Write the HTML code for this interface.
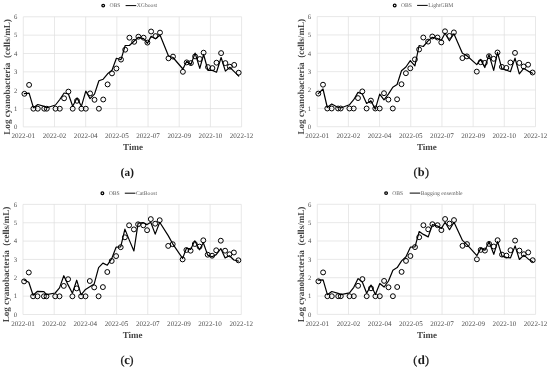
<!DOCTYPE html>
<html><head><meta charset="utf-8"><title>Figure</title>
<style>
html,body{margin:0;padding:0;background:#fff;}
body{width:550px;height:368px;overflow:hidden;}
svg{display:block;}
text{font-family:"Liberation Serif","DejaVu Serif",serif;text-rendering:geometricPrecision;}
.g{stroke:#dedede;stroke-width:0.7;shape-rendering:auto;}
.t{font-size:7.1px;fill:#505050;}
.yt{font-size:6.7px;}
.at{font-size:9.0px;font-weight:bold;fill:#464646;}
.yl{font-size:9.12px;white-space:pre;}
.ml{fill:none;stroke:#000;stroke-width:1.2;stroke-linejoin:round;stroke-linecap:round;}
.ob{fill:none;stroke:#000;stroke-width:1.0;}
.lo{fill:#fff;stroke:#000;stroke-width:1.25;}
.ll{stroke:#000;stroke-width:1.0;}
.lt{font-size:5.65px;fill:#666;}
.cap{fill:#1a1a1a;}
</style></head><body>
<svg width="550" height="368" viewBox="0 0 550 368">
<rect width="550" height="368" fill="#fff"/>
<g transform="translate(0,0)">
<line x1="23.3" y1="16.80" x2="241.6" y2="16.80" class="g"/>
<line x1="23.3" y1="35.15" x2="241.6" y2="35.15" class="g"/>
<line x1="23.3" y1="53.50" x2="241.6" y2="53.50" class="g"/>
<line x1="23.3" y1="71.85" x2="241.6" y2="71.85" class="g"/>
<line x1="23.3" y1="90.20" x2="241.6" y2="90.20" class="g"/>
<line x1="23.3" y1="108.55" x2="241.6" y2="108.55" class="g"/>
<line x1="23.3" y1="126.90" x2="241.6" y2="126.90" class="g"/>
<line x1="23.30" y1="16.8" x2="23.30" y2="126.9" class="g"/>
<line x1="54.49" y1="16.8" x2="54.49" y2="126.9" class="g"/>
<line x1="85.67" y1="16.8" x2="85.67" y2="126.9" class="g"/>
<line x1="116.86" y1="16.8" x2="116.86" y2="126.9" class="g"/>
<line x1="148.04" y1="16.8" x2="148.04" y2="126.9" class="g"/>
<line x1="179.23" y1="16.8" x2="179.23" y2="126.9" class="g"/>
<line x1="210.41" y1="16.8" x2="210.41" y2="126.9" class="g"/>
<line x1="241.60" y1="16.8" x2="241.60" y2="126.9" class="g"/>
<text x="17.3" y="129.20" class="t yt" text-anchor="end">0</text>
<text x="17.3" y="110.85" class="t yt" text-anchor="end">1</text>
<text x="17.3" y="92.50" class="t yt" text-anchor="end">2</text>
<text x="17.3" y="74.15" class="t yt" text-anchor="end">3</text>
<text x="17.3" y="55.80" class="t yt" text-anchor="end">4</text>
<text x="17.3" y="37.45" class="t yt" text-anchor="end">5</text>
<text x="17.3" y="19.10" class="t yt" text-anchor="end">6</text>
<text x="23.30" y="138.2" class="t" text-anchor="middle">2022-01</text>
<text x="54.49" y="138.2" class="t" text-anchor="middle">2022-02</text>
<text x="85.67" y="138.2" class="t" text-anchor="middle">2022-04</text>
<text x="116.86" y="138.2" class="t" text-anchor="middle">2022-05</text>
<text x="148.04" y="138.2" class="t" text-anchor="middle">2022-07</text>
<text x="179.23" y="138.2" class="t" text-anchor="middle">2022-09</text>
<text x="210.41" y="138.2" class="t" text-anchor="middle">2022-10</text>
<text x="241.60" y="138.2" class="t" text-anchor="middle">2022-12</text>
<text x="133" y="150.0" class="at" text-anchor="middle">Time</text>
<text transform="translate(9.6,76.9) rotate(-90)" class="at yl" text-anchor="middle">Log cyanobacteria  (cells/mL)</text>
<polyline points="24.4,93.7 29.1,93.2 33.4,107.7 37.8,104.5 44.2,106.3 46.8,107.7 55.5,105.0 59.8,99.5 64.1,93.0 68.4,94.0 72.7,106.3 77.0,97.9 81.4,106.3 85.8,91.1 90.1,98.6 94.5,94.1 98.9,80.8 103.2,79.2 107.6,73.8 112.0,70.3 116.4,58.3 121.0,59.7 125.2,45.5 129.4,45.5 134.2,41.0 138.4,37.3 143.6,38.6 147.4,43.4 151.1,36.4 155.5,38.8 160.0,35.0 168.5,56.0 173.0,57.5 182.9,69.0 186.7,61.3 190.9,64.5 195.1,53.1 199.8,68.4 203.6,54.5 208.0,70.5 212.4,70.4 216.5,72.2 221.1,57.5 225.4,71.1 229.8,67.3 234.2,71.6 238.7,76.0" class="ml"/>
<circle cx="24.4" cy="93.8" r="2.45" class="ob"/>
<circle cx="29.1" cy="84.9" r="2.45" class="ob"/>
<circle cx="33.4" cy="108.7" r="2.45" class="ob"/>
<circle cx="37.8" cy="108.7" r="2.45" class="ob"/>
<circle cx="44.2" cy="108.7" r="2.45" class="ob"/>
<circle cx="46.8" cy="108.7" r="2.45" class="ob"/>
<circle cx="55.5" cy="108.7" r="2.45" class="ob"/>
<circle cx="59.8" cy="108.7" r="2.45" class="ob"/>
<circle cx="64.1" cy="98.3" r="2.45" class="ob"/>
<circle cx="68.4" cy="91.6" r="2.45" class="ob"/>
<circle cx="72.7" cy="108.7" r="2.45" class="ob"/>
<circle cx="77.0" cy="100.8" r="2.45" class="ob"/>
<circle cx="81.4" cy="108.7" r="2.45" class="ob"/>
<circle cx="85.8" cy="108.7" r="2.45" class="ob"/>
<circle cx="90.1" cy="93.4" r="2.45" class="ob"/>
<circle cx="94.5" cy="99.8" r="2.45" class="ob"/>
<circle cx="98.9" cy="108.7" r="2.45" class="ob"/>
<circle cx="103.2" cy="99.5" r="2.45" class="ob"/>
<circle cx="107.6" cy="84.4" r="2.45" class="ob"/>
<circle cx="112.0" cy="73.4" r="2.45" class="ob"/>
<circle cx="116.4" cy="68.5" r="2.45" class="ob"/>
<circle cx="121.0" cy="59.6" r="2.45" class="ob"/>
<circle cx="125.2" cy="49.7" r="2.45" class="ob"/>
<circle cx="129.4" cy="37.7" r="2.45" class="ob"/>
<circle cx="134.2" cy="41.8" r="2.45" class="ob"/>
<circle cx="138.4" cy="36.7" r="2.45" class="ob"/>
<circle cx="143.6" cy="37.7" r="2.45" class="ob"/>
<circle cx="147.4" cy="42.6" r="2.45" class="ob"/>
<circle cx="151.1" cy="31.5" r="2.45" class="ob"/>
<circle cx="155.5" cy="36.1" r="2.45" class="ob"/>
<circle cx="160.0" cy="32.6" r="2.45" class="ob"/>
<circle cx="168.5" cy="58.3" r="2.45" class="ob"/>
<circle cx="173.0" cy="56.6" r="2.45" class="ob"/>
<circle cx="182.9" cy="71.8" r="2.45" class="ob"/>
<circle cx="186.7" cy="62.4" r="2.45" class="ob"/>
<circle cx="190.9" cy="63.1" r="2.45" class="ob"/>
<circle cx="195.1" cy="56.4" r="2.45" class="ob"/>
<circle cx="199.8" cy="59.0" r="2.45" class="ob"/>
<circle cx="203.6" cy="52.7" r="2.45" class="ob"/>
<circle cx="208.0" cy="67.1" r="2.45" class="ob"/>
<circle cx="212.4" cy="68.1" r="2.45" class="ob"/>
<circle cx="216.5" cy="62.7" r="2.45" class="ob"/>
<circle cx="221.1" cy="53.1" r="2.45" class="ob"/>
<circle cx="225.4" cy="63.1" r="2.45" class="ob"/>
<circle cx="229.8" cy="66.7" r="2.45" class="ob"/>
<circle cx="234.2" cy="64.9" r="2.45" class="ob"/>
<circle cx="238.7" cy="72.7" r="2.45" class="ob"/>
<circle cx="103.2" cy="5.6" r="1.35" class="lo"/>
<text x="109.5" y="7.4" class="lt">OBS</text>
<line x1="125.6" y1="5.6" x2="136.2" y2="5.6" class="ll"/>
<text x="136.8" y="7.4" class="lt">XGboost</text>
<text x="127.2" y="176.3" class="cap" text-anchor="middle"><tspan style="font-size:12px;font-weight:bold;stroke:#1a1a1a;stroke-width:0">(</tspan><tspan dx="0" style="font-size:11.2px;font-weight:bold">a</tspan><tspan dx="0" style="font-size:12px;font-weight:bold;stroke:#1a1a1a;stroke-width:0">)</tspan></text>
</g><g transform="translate(293.9,-0.2)">
<line x1="23.3" y1="16.80" x2="241.6" y2="16.80" class="g"/>
<line x1="23.3" y1="35.15" x2="241.6" y2="35.15" class="g"/>
<line x1="23.3" y1="53.50" x2="241.6" y2="53.50" class="g"/>
<line x1="23.3" y1="71.85" x2="241.6" y2="71.85" class="g"/>
<line x1="23.3" y1="90.20" x2="241.6" y2="90.20" class="g"/>
<line x1="23.3" y1="108.55" x2="241.6" y2="108.55" class="g"/>
<line x1="23.3" y1="126.90" x2="241.6" y2="126.90" class="g"/>
<line x1="23.30" y1="16.8" x2="23.30" y2="126.9" class="g"/>
<line x1="54.49" y1="16.8" x2="54.49" y2="126.9" class="g"/>
<line x1="85.67" y1="16.8" x2="85.67" y2="126.9" class="g"/>
<line x1="116.86" y1="16.8" x2="116.86" y2="126.9" class="g"/>
<line x1="148.04" y1="16.8" x2="148.04" y2="126.9" class="g"/>
<line x1="179.23" y1="16.8" x2="179.23" y2="126.9" class="g"/>
<line x1="210.41" y1="16.8" x2="210.41" y2="126.9" class="g"/>
<line x1="241.60" y1="16.8" x2="241.60" y2="126.9" class="g"/>
<text x="17.3" y="129.20" class="t yt" text-anchor="end">0</text>
<text x="17.3" y="110.85" class="t yt" text-anchor="end">1</text>
<text x="17.3" y="92.50" class="t yt" text-anchor="end">2</text>
<text x="17.3" y="74.15" class="t yt" text-anchor="end">3</text>
<text x="17.3" y="55.80" class="t yt" text-anchor="end">4</text>
<text x="17.3" y="37.45" class="t yt" text-anchor="end">5</text>
<text x="17.3" y="19.10" class="t yt" text-anchor="end">6</text>
<text x="23.30" y="138.2" class="t" text-anchor="middle">2022-01</text>
<text x="54.49" y="138.2" class="t" text-anchor="middle">2022-02</text>
<text x="85.67" y="138.2" class="t" text-anchor="middle">2022-04</text>
<text x="116.86" y="138.2" class="t" text-anchor="middle">2022-05</text>
<text x="148.04" y="138.2" class="t" text-anchor="middle">2022-07</text>
<text x="179.23" y="138.2" class="t" text-anchor="middle">2022-09</text>
<text x="210.41" y="138.2" class="t" text-anchor="middle">2022-10</text>
<text x="241.60" y="138.2" class="t" text-anchor="middle">2022-12</text>
<text x="133" y="150.0" class="at" text-anchor="middle">Time</text>
<text transform="translate(9.6,76.9) rotate(-90)" class="at yl" text-anchor="middle">Log cyanobacteria  (cells/mL)</text>
<polyline points="24.4,93.9 29.1,89.2 33.4,107.7 37.8,104.2 44.2,107.7 46.8,108.2 55.5,105.0 59.8,99.9 64.1,92.6 68.4,94.2 72.7,103.6 77.0,100.9 81.4,109.3 85.8,94.3 90.1,100.0 94.5,94.3 98.9,87.4 103.2,84.7 107.6,71.0 112.0,67.2 116.4,60.8 121.0,66.1 125.2,45.7 129.4,46.7 134.2,41.1 138.4,37.5 143.6,38.7 147.4,40.5 151.1,33.4 155.5,41.0 160.0,33.9 168.5,53.4 173.0,56.0 182.9,64.8 186.7,59.6 190.9,67.7 195.1,54.8 199.8,70.6 203.6,52.5 208.0,69.1 212.4,70.2 216.5,71.9 221.1,58.3 225.4,74.0 229.8,68.6 234.2,71.3 238.7,73.5" class="ml"/>
<circle cx="24.4" cy="93.8" r="2.45" class="ob"/>
<circle cx="29.1" cy="84.9" r="2.45" class="ob"/>
<circle cx="33.4" cy="108.7" r="2.45" class="ob"/>
<circle cx="37.8" cy="108.7" r="2.45" class="ob"/>
<circle cx="44.2" cy="108.7" r="2.45" class="ob"/>
<circle cx="46.8" cy="108.7" r="2.45" class="ob"/>
<circle cx="55.5" cy="108.7" r="2.45" class="ob"/>
<circle cx="59.8" cy="108.7" r="2.45" class="ob"/>
<circle cx="64.1" cy="98.3" r="2.45" class="ob"/>
<circle cx="68.4" cy="91.6" r="2.45" class="ob"/>
<circle cx="72.7" cy="108.7" r="2.45" class="ob"/>
<circle cx="77.0" cy="100.8" r="2.45" class="ob"/>
<circle cx="81.4" cy="108.7" r="2.45" class="ob"/>
<circle cx="85.8" cy="108.7" r="2.45" class="ob"/>
<circle cx="90.1" cy="93.4" r="2.45" class="ob"/>
<circle cx="94.5" cy="99.8" r="2.45" class="ob"/>
<circle cx="98.9" cy="108.7" r="2.45" class="ob"/>
<circle cx="103.2" cy="99.5" r="2.45" class="ob"/>
<circle cx="107.6" cy="84.4" r="2.45" class="ob"/>
<circle cx="112.0" cy="73.4" r="2.45" class="ob"/>
<circle cx="116.4" cy="68.5" r="2.45" class="ob"/>
<circle cx="121.0" cy="59.6" r="2.45" class="ob"/>
<circle cx="125.2" cy="49.7" r="2.45" class="ob"/>
<circle cx="129.4" cy="37.7" r="2.45" class="ob"/>
<circle cx="134.2" cy="41.8" r="2.45" class="ob"/>
<circle cx="138.4" cy="36.7" r="2.45" class="ob"/>
<circle cx="143.6" cy="37.7" r="2.45" class="ob"/>
<circle cx="147.4" cy="42.6" r="2.45" class="ob"/>
<circle cx="151.1" cy="31.5" r="2.45" class="ob"/>
<circle cx="155.5" cy="36.1" r="2.45" class="ob"/>
<circle cx="160.0" cy="32.6" r="2.45" class="ob"/>
<circle cx="168.5" cy="58.3" r="2.45" class="ob"/>
<circle cx="173.0" cy="56.6" r="2.45" class="ob"/>
<circle cx="182.9" cy="71.8" r="2.45" class="ob"/>
<circle cx="186.7" cy="62.4" r="2.45" class="ob"/>
<circle cx="190.9" cy="63.1" r="2.45" class="ob"/>
<circle cx="195.1" cy="56.4" r="2.45" class="ob"/>
<circle cx="199.8" cy="59.0" r="2.45" class="ob"/>
<circle cx="203.6" cy="52.7" r="2.45" class="ob"/>
<circle cx="208.0" cy="67.1" r="2.45" class="ob"/>
<circle cx="212.4" cy="68.1" r="2.45" class="ob"/>
<circle cx="216.5" cy="62.7" r="2.45" class="ob"/>
<circle cx="221.1" cy="53.1" r="2.45" class="ob"/>
<circle cx="225.4" cy="63.1" r="2.45" class="ob"/>
<circle cx="229.8" cy="66.7" r="2.45" class="ob"/>
<circle cx="234.2" cy="64.9" r="2.45" class="ob"/>
<circle cx="238.7" cy="72.7" r="2.45" class="ob"/>
<circle cx="100.8" cy="5.6" r="1.35" class="lo"/>
<text x="107.1" y="7.4" class="lt">OBS</text>
<line x1="123.19999999999999" y1="5.6" x2="133.8" y2="5.6" class="ll"/>
<text x="134.4" y="7.4" class="lt">LightGBM</text>
<text x="127.3" y="176.5" class="cap" text-anchor="middle"><tspan style="font-size:12px;font-weight:normal;stroke:#1a1a1a;stroke-width:0.25">(</tspan><tspan dx="0.3" style="font-size:12.3px;font-weight:bold">b</tspan><tspan dx="0.3" style="font-size:12px;font-weight:normal;stroke:#1a1a1a;stroke-width:0.25">)</tspan></text>
</g><g transform="translate(-0.3,187.6)">
<line x1="23.3" y1="16.80" x2="241.6" y2="16.80" class="g"/>
<line x1="23.3" y1="35.15" x2="241.6" y2="35.15" class="g"/>
<line x1="23.3" y1="53.50" x2="241.6" y2="53.50" class="g"/>
<line x1="23.3" y1="71.85" x2="241.6" y2="71.85" class="g"/>
<line x1="23.3" y1="90.20" x2="241.6" y2="90.20" class="g"/>
<line x1="23.3" y1="108.55" x2="241.6" y2="108.55" class="g"/>
<line x1="23.3" y1="126.90" x2="241.6" y2="126.90" class="g"/>
<line x1="23.30" y1="16.8" x2="23.30" y2="126.9" class="g"/>
<line x1="54.49" y1="16.8" x2="54.49" y2="126.9" class="g"/>
<line x1="85.67" y1="16.8" x2="85.67" y2="126.9" class="g"/>
<line x1="116.86" y1="16.8" x2="116.86" y2="126.9" class="g"/>
<line x1="148.04" y1="16.8" x2="148.04" y2="126.9" class="g"/>
<line x1="179.23" y1="16.8" x2="179.23" y2="126.9" class="g"/>
<line x1="210.41" y1="16.8" x2="210.41" y2="126.9" class="g"/>
<line x1="241.60" y1="16.8" x2="241.60" y2="126.9" class="g"/>
<text x="17.3" y="129.20" class="t yt" text-anchor="end">0</text>
<text x="17.3" y="110.85" class="t yt" text-anchor="end">1</text>
<text x="17.3" y="92.50" class="t yt" text-anchor="end">2</text>
<text x="17.3" y="74.15" class="t yt" text-anchor="end">3</text>
<text x="17.3" y="55.80" class="t yt" text-anchor="end">4</text>
<text x="17.3" y="37.45" class="t yt" text-anchor="end">5</text>
<text x="17.3" y="19.10" class="t yt" text-anchor="end">6</text>
<text x="23.30" y="138.2" class="t" text-anchor="middle">2022-01</text>
<text x="54.49" y="138.2" class="t" text-anchor="middle">2022-02</text>
<text x="85.67" y="138.2" class="t" text-anchor="middle">2022-04</text>
<text x="116.86" y="138.2" class="t" text-anchor="middle">2022-05</text>
<text x="148.04" y="138.2" class="t" text-anchor="middle">2022-07</text>
<text x="179.23" y="138.2" class="t" text-anchor="middle">2022-09</text>
<text x="210.41" y="138.2" class="t" text-anchor="middle">2022-10</text>
<text x="241.60" y="138.2" class="t" text-anchor="middle">2022-12</text>
<text x="133" y="150.0" class="at" text-anchor="middle">Time</text>
<text transform="translate(9.6,76.9) rotate(-90)" class="at yl" text-anchor="middle">Log cyanobacteria  (cells/mL)</text>
<polyline points="24.4,92.4 29.1,94.7 33.4,107.7 37.8,103.7 44.2,104.0 46.8,107.0 55.5,105.4 59.8,100.3 64.1,88.1 68.4,97.3 72.7,105.6 77.0,92.6 81.4,107.2 85.8,101.8 90.1,99.1 94.5,96.3 98.9,80.0 103.2,75.5 107.6,77.6 112.0,71.0 116.4,59.6 121.0,59.3 125.2,41.5 129.4,52.0 134.2,63.4 138.4,35.6 143.6,35.1 147.4,37.0 151.1,34.7 155.5,46.5 160.0,34.7 168.5,48.0 173.0,56.2 182.9,70.8 186.7,60.8 190.9,61.8 195.1,53.2 199.8,62.2 203.6,55.1 208.0,67.5 212.4,69.2 216.5,67.0 221.1,61.0 225.4,70.3 229.8,68.1 234.2,72.4 238.7,73.5" class="ml"/>
<circle cx="24.4" cy="93.8" r="2.45" class="ob"/>
<circle cx="29.1" cy="84.9" r="2.45" class="ob"/>
<circle cx="33.4" cy="108.7" r="2.45" class="ob"/>
<circle cx="37.8" cy="108.7" r="2.45" class="ob"/>
<circle cx="44.2" cy="108.7" r="2.45" class="ob"/>
<circle cx="46.8" cy="108.7" r="2.45" class="ob"/>
<circle cx="55.5" cy="108.7" r="2.45" class="ob"/>
<circle cx="59.8" cy="108.7" r="2.45" class="ob"/>
<circle cx="64.1" cy="98.3" r="2.45" class="ob"/>
<circle cx="68.4" cy="91.6" r="2.45" class="ob"/>
<circle cx="72.7" cy="108.7" r="2.45" class="ob"/>
<circle cx="77.0" cy="100.8" r="2.45" class="ob"/>
<circle cx="81.4" cy="108.7" r="2.45" class="ob"/>
<circle cx="85.8" cy="108.7" r="2.45" class="ob"/>
<circle cx="90.1" cy="93.4" r="2.45" class="ob"/>
<circle cx="94.5" cy="99.8" r="2.45" class="ob"/>
<circle cx="98.9" cy="108.7" r="2.45" class="ob"/>
<circle cx="103.2" cy="99.5" r="2.45" class="ob"/>
<circle cx="107.6" cy="84.4" r="2.45" class="ob"/>
<circle cx="112.0" cy="73.4" r="2.45" class="ob"/>
<circle cx="116.4" cy="68.5" r="2.45" class="ob"/>
<circle cx="121.0" cy="59.6" r="2.45" class="ob"/>
<circle cx="125.2" cy="49.7" r="2.45" class="ob"/>
<circle cx="129.4" cy="37.7" r="2.45" class="ob"/>
<circle cx="134.2" cy="41.8" r="2.45" class="ob"/>
<circle cx="138.4" cy="36.7" r="2.45" class="ob"/>
<circle cx="143.6" cy="37.7" r="2.45" class="ob"/>
<circle cx="147.4" cy="42.6" r="2.45" class="ob"/>
<circle cx="151.1" cy="31.5" r="2.45" class="ob"/>
<circle cx="155.5" cy="36.1" r="2.45" class="ob"/>
<circle cx="160.0" cy="32.6" r="2.45" class="ob"/>
<circle cx="168.5" cy="58.3" r="2.45" class="ob"/>
<circle cx="173.0" cy="56.6" r="2.45" class="ob"/>
<circle cx="182.9" cy="71.8" r="2.45" class="ob"/>
<circle cx="186.7" cy="62.4" r="2.45" class="ob"/>
<circle cx="190.9" cy="63.1" r="2.45" class="ob"/>
<circle cx="195.1" cy="56.4" r="2.45" class="ob"/>
<circle cx="199.8" cy="59.0" r="2.45" class="ob"/>
<circle cx="203.6" cy="52.7" r="2.45" class="ob"/>
<circle cx="208.0" cy="67.1" r="2.45" class="ob"/>
<circle cx="212.4" cy="68.1" r="2.45" class="ob"/>
<circle cx="216.5" cy="62.7" r="2.45" class="ob"/>
<circle cx="221.1" cy="53.1" r="2.45" class="ob"/>
<circle cx="225.4" cy="63.1" r="2.45" class="ob"/>
<circle cx="229.8" cy="66.7" r="2.45" class="ob"/>
<circle cx="234.2" cy="64.9" r="2.45" class="ob"/>
<circle cx="238.7" cy="72.7" r="2.45" class="ob"/>
<circle cx="102.7" cy="5.6" r="1.35" class="lo"/>
<text x="109.0" y="7.4" class="lt">OBS</text>
<line x1="125.1" y1="5.6" x2="135.7" y2="5.6" class="ll"/>
<text x="136.3" y="7.4" class="lt">CatBoost</text>
<text x="127.3" y="176.5" class="cap" text-anchor="middle"><tspan style="font-size:12px;font-weight:normal;stroke:#1a1a1a;stroke-width:0.25">(</tspan><tspan dx="-0.3" style="font-size:12.8px;font-weight:bold">c</tspan><tspan dx="-0.3" style="font-size:12px;font-weight:normal;stroke:#1a1a1a;stroke-width:0.25">)</tspan></text>
</g><g transform="translate(294.0,187.5)">
<line x1="23.3" y1="16.80" x2="241.6" y2="16.80" class="g"/>
<line x1="23.3" y1="35.15" x2="241.6" y2="35.15" class="g"/>
<line x1="23.3" y1="53.50" x2="241.6" y2="53.50" class="g"/>
<line x1="23.3" y1="71.85" x2="241.6" y2="71.85" class="g"/>
<line x1="23.3" y1="90.20" x2="241.6" y2="90.20" class="g"/>
<line x1="23.3" y1="108.55" x2="241.6" y2="108.55" class="g"/>
<line x1="23.3" y1="126.90" x2="241.6" y2="126.90" class="g"/>
<line x1="23.30" y1="16.8" x2="23.30" y2="126.9" class="g"/>
<line x1="54.49" y1="16.8" x2="54.49" y2="126.9" class="g"/>
<line x1="85.67" y1="16.8" x2="85.67" y2="126.9" class="g"/>
<line x1="116.86" y1="16.8" x2="116.86" y2="126.9" class="g"/>
<line x1="148.04" y1="16.8" x2="148.04" y2="126.9" class="g"/>
<line x1="179.23" y1="16.8" x2="179.23" y2="126.9" class="g"/>
<line x1="210.41" y1="16.8" x2="210.41" y2="126.9" class="g"/>
<line x1="241.60" y1="16.8" x2="241.60" y2="126.9" class="g"/>
<text x="17.3" y="129.20" class="t yt" text-anchor="end">0</text>
<text x="17.3" y="110.85" class="t yt" text-anchor="end">1</text>
<text x="17.3" y="92.50" class="t yt" text-anchor="end">2</text>
<text x="17.3" y="74.15" class="t yt" text-anchor="end">3</text>
<text x="17.3" y="55.80" class="t yt" text-anchor="end">4</text>
<text x="17.3" y="37.45" class="t yt" text-anchor="end">5</text>
<text x="17.3" y="19.10" class="t yt" text-anchor="end">6</text>
<text x="23.30" y="138.2" class="t" text-anchor="middle">2022-01</text>
<text x="54.49" y="138.2" class="t" text-anchor="middle">2022-02</text>
<text x="85.67" y="138.2" class="t" text-anchor="middle">2022-04</text>
<text x="116.86" y="138.2" class="t" text-anchor="middle">2022-05</text>
<text x="148.04" y="138.2" class="t" text-anchor="middle">2022-07</text>
<text x="179.23" y="138.2" class="t" text-anchor="middle">2022-09</text>
<text x="210.41" y="138.2" class="t" text-anchor="middle">2022-10</text>
<text x="241.60" y="138.2" class="t" text-anchor="middle">2022-12</text>
<text x="133" y="150.0" class="at" text-anchor="middle">Time</text>
<text transform="translate(9.6,76.9) rotate(-90)" class="at yl" text-anchor="middle">Log cyanobacteria  (cells/mL)</text>
<polyline points="24.4,92.6 29.1,92.4 33.4,107.2 37.8,104.0 44.2,105.8 46.8,107.2 55.5,105.4 59.8,99.8 64.1,91.1 68.4,94.8 72.7,105.7 77.0,97.6 81.4,107.0 85.8,96.0 90.1,99.5 94.5,93.5 98.9,82.7 103.2,80.1 107.6,73.4 112.0,69.2 116.4,59.7 121.0,59.4 125.2,44.0 129.4,46.9 134.2,49.4 138.4,37.2 143.6,38.6 147.4,40.9 151.1,34.8 155.5,42.2 160.0,34.8 168.5,52.9 173.0,57.1 182.9,68.1 186.7,60.9 190.9,62.8 195.1,54.3 199.8,66.8 203.6,54.1 208.0,68.7 212.4,69.8 216.5,70.4 221.1,58.4 225.4,72.0 229.8,67.6 234.2,71.4 238.7,74.2" class="ml"/>
<circle cx="24.4" cy="93.8" r="2.45" class="ob"/>
<circle cx="29.1" cy="84.9" r="2.45" class="ob"/>
<circle cx="33.4" cy="108.7" r="2.45" class="ob"/>
<circle cx="37.8" cy="108.7" r="2.45" class="ob"/>
<circle cx="44.2" cy="108.7" r="2.45" class="ob"/>
<circle cx="46.8" cy="108.7" r="2.45" class="ob"/>
<circle cx="55.5" cy="108.7" r="2.45" class="ob"/>
<circle cx="59.8" cy="108.7" r="2.45" class="ob"/>
<circle cx="64.1" cy="98.3" r="2.45" class="ob"/>
<circle cx="68.4" cy="91.6" r="2.45" class="ob"/>
<circle cx="72.7" cy="108.7" r="2.45" class="ob"/>
<circle cx="77.0" cy="100.8" r="2.45" class="ob"/>
<circle cx="81.4" cy="108.7" r="2.45" class="ob"/>
<circle cx="85.8" cy="108.7" r="2.45" class="ob"/>
<circle cx="90.1" cy="93.4" r="2.45" class="ob"/>
<circle cx="94.5" cy="99.8" r="2.45" class="ob"/>
<circle cx="98.9" cy="108.7" r="2.45" class="ob"/>
<circle cx="103.2" cy="99.5" r="2.45" class="ob"/>
<circle cx="107.6" cy="84.4" r="2.45" class="ob"/>
<circle cx="112.0" cy="73.4" r="2.45" class="ob"/>
<circle cx="116.4" cy="68.5" r="2.45" class="ob"/>
<circle cx="121.0" cy="59.6" r="2.45" class="ob"/>
<circle cx="125.2" cy="49.7" r="2.45" class="ob"/>
<circle cx="129.4" cy="37.7" r="2.45" class="ob"/>
<circle cx="134.2" cy="41.8" r="2.45" class="ob"/>
<circle cx="138.4" cy="36.7" r="2.45" class="ob"/>
<circle cx="143.6" cy="37.7" r="2.45" class="ob"/>
<circle cx="147.4" cy="42.6" r="2.45" class="ob"/>
<circle cx="151.1" cy="31.5" r="2.45" class="ob"/>
<circle cx="155.5" cy="36.1" r="2.45" class="ob"/>
<circle cx="160.0" cy="32.6" r="2.45" class="ob"/>
<circle cx="168.5" cy="58.3" r="2.45" class="ob"/>
<circle cx="173.0" cy="56.6" r="2.45" class="ob"/>
<circle cx="182.9" cy="71.8" r="2.45" class="ob"/>
<circle cx="186.7" cy="62.4" r="2.45" class="ob"/>
<circle cx="190.9" cy="63.1" r="2.45" class="ob"/>
<circle cx="195.1" cy="56.4" r="2.45" class="ob"/>
<circle cx="199.8" cy="59.0" r="2.45" class="ob"/>
<circle cx="203.6" cy="52.7" r="2.45" class="ob"/>
<circle cx="208.0" cy="67.1" r="2.45" class="ob"/>
<circle cx="212.4" cy="68.1" r="2.45" class="ob"/>
<circle cx="216.5" cy="62.7" r="2.45" class="ob"/>
<circle cx="221.1" cy="53.1" r="2.45" class="ob"/>
<circle cx="225.4" cy="63.1" r="2.45" class="ob"/>
<circle cx="229.8" cy="66.7" r="2.45" class="ob"/>
<circle cx="234.2" cy="64.9" r="2.45" class="ob"/>
<circle cx="238.7" cy="72.7" r="2.45" class="ob"/>
<circle cx="92.1" cy="5.6" r="1.35" class="lo"/>
<text x="98.2" y="7.4" class="lt">OBS</text>
<line x1="115.7" y1="5.6" x2="126.2" y2="5.6" class="ll"/>
<text x="126.8" y="7.4" class="lt">Bagging ensemble</text>
<text x="127.2" y="176.5" class="cap" text-anchor="middle"><tspan style="font-size:12px;font-weight:normal;stroke:#1a1a1a;stroke-width:0.25">(</tspan><tspan dx="0.3" style="font-size:12.8px;font-weight:bold">d</tspan><tspan dx="0.3" style="font-size:12px;font-weight:normal;stroke:#1a1a1a;stroke-width:0.25">)</tspan></text>
</g>
</svg>
</body></html>
